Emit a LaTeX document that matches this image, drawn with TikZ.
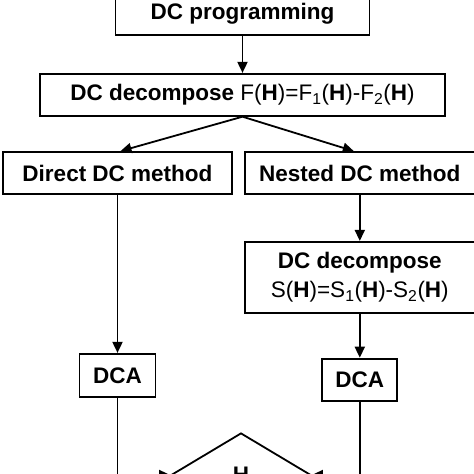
\documentclass[tikz,border=0pt]{standalone}
\usepackage{fontspec}
\setmainfont{Liberation Sans}
\usepackage{tikz}
\usetikzlibrary{arrows.meta,positioning,shapes.geometric}
\tikzset{
    %Define standard arrow tip
    >={Triangle[length=11pt,width=10pt]},
    %Define style for boxes
    stepbox/.style={
           rectangle,
           draw=black, line width=1.8pt,
           minimum height=42pt,
           inner sep=2pt,
           font=\fontsize{22.5}{29}\selectfont,
           align=center},
    %Define style for the decision
    decision/.style={
           diamond,
           draw=black, line width=1.8pt,
           minimum width=140pt,
           minimum height=84pt,
           inner sep=1pt,
           font=\fontsize{22.5}{29}\selectfont\bfseries},
    % Define arrow style
    pil/.style={
           ->,
           line width=1.8pt}
}
\begin{document}
\begin{tikzpicture}[x=1pt,y=-1pt]
\useasboundingbox (0,0) rectangle (474,474);
\clip (0,0) rectangle (474,474);
\node[stepbox, minimum width=254pt](prog) at (242.5,14){\bfseries DC programming};
\node[stepbox, minimum width=405pt, below=37pt of prog](decomp){\textbf{DC decompose} F(\textbf{H})=F\textsubscript{1}(\textbf{H})-F\textsubscript{2}(\textbf{H})};
\node[stepbox, minimum width=229pt](direct) at (117.5,173){\bfseries Direct DC method};
\node[stepbox, minimum width=230pt, right=11pt of direct](nested){\bfseries Nested DC method};
\node[stepbox, minimum width=230pt, minimum height=71pt, below=46pt of nested](nestdec){\textbf{DC decompose}\\S(\textbf{H})=S\textsubscript{1}(\textbf{H})-S\textsubscript{2}(\textbf{H})};
\node[stepbox, minimum width=76pt, minimum height=43pt, below=158pt of direct](dca1){\bfseries DCA};
\node[stepbox, minimum width=75pt, below=44pt of nestdec](dca2){\bfseries DCA};
\node[decision](check) at (241,475){H};
 \path[pil]
    (prog) edge (decomp)
    (decomp.south) edge ([xshift=3pt]direct.north)
    (decomp.south) edge ([xshift=-6pt]nested.north)
    (nested) edge (nestdec)
    (nestdec) edge (dca2)
    (direct) edge (dca1);
\draw[pil] (dca1.south) |- (check.west);
\draw[pil] (dca2.south) |- (check.east);
\end{tikzpicture}
\end{document}
